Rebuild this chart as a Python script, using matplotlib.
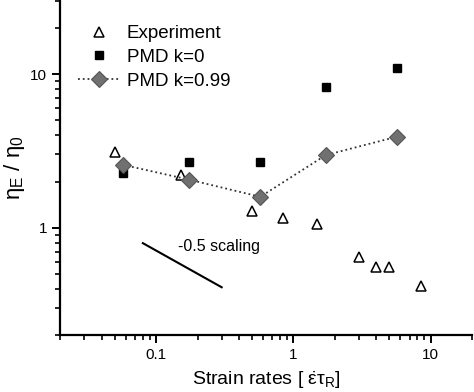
import matplotlib.pyplot as plt
import numpy as np

plt.rcParams["font.family"] = ["Liberation Sans", "DejaVu Sans"]
plt.rcParams["mathtext.fontset"] = "custom"
plt.rcParams["mathtext.rm"] = "Liberation Sans"
plt.rcParams["mathtext.it"] = "Liberation Sans"
plt.rcParams["mathtext.default"] = "regular"

# 实验数据
EXP_RATE = [0.05, 0.152, 0.497, 0.84, 1.49, 3.02, 4.0, 4.93, 8.47]
EXP_ETA = [3.09, 2.19, 1.29, 1.15, 1.06, 0.646, 0.556, 0.556, 0.42]

# PMD 仿真
PMD_RATE = [0.057, 0.172, 0.573, 1.72, 5.7]
PMD_K0_ETA = [2.26, 2.67, 2.67, 8.22, 10.9]
PMD_K099_ETA = [2.57, 2.06, 1.59, 2.97, 3.92]

# -0.5 标度线
SCALE_RATE = [0.08, 0.3]
SCALE_Y0 = 0.794
SCALE_EXP = -0.5

fig = plt.figure(figsize=(4.74, 3.92), dpi=100)
ax = fig.add_axes([0.127, 0.145, 0.869, 0.853])

ax.plot(EXP_RATE, EXP_ETA, "^", ms=7.5, mfc="white", mec="black", mew=1.1,
        ls="none", label="Experiment")
ax.plot(PMD_RATE, PMD_K0_ETA, "s", ms=6, color="black", ls="none", label="PMD k=0")
ax.plot(PMD_RATE, PMD_K099_ETA, ":", color="#333333", lw=1.3, marker="D", ms=8,
        mfc="#707070", mec="#555555", mew=0.8, label="PMD k=0.99")

sx = np.array(SCALE_RATE)
ax.plot(sx, SCALE_Y0 * (sx / sx[0]) ** SCALE_EXP, color="black", lw=1.5)
ax.text(0.145, 0.75, "-0.5 scaling", fontsize=11.5, va="center", ha="left")

ax.set_xscale("log")
ax.set_yscale("log")
ax.set_xlim(0.02, 20)
ax.set_ylim(0.2, 30)
ax.set_xticks([0.1, 1, 10])
ax.set_xticklabels(["0.1", "1", "10"])
ax.set_yticks([1, 10])
ax.set_yticklabels(["1", "10"])

for side in ("top", "right"):
    ax.spines[side].set_visible(False)
for side in ("left", "bottom"):
    ax.spines[side].set_linewidth(1.6)
ax.tick_params(which="major", length=6, width=1.4, labelsize=11, direction="out")
ax.tick_params(which="minor", length=3.5, width=1.2, direction="out")

ax.set_xlabel(r"Strain rates [ $\dot{\varepsilon}\tau_R$]", fontsize=14, labelpad=5)
ax.set_ylabel(r"$\eta_E\ /\ \eta_0$", fontsize=16, labelpad=2)

ax.legend(loc="upper left", bbox_to_anchor=(0.025, 0.95), frameon=False,
          fontsize=13.5, handlelength=2.2, handletextpad=0.4, labelspacing=0.36,
          borderaxespad=0)

fig.savefig("out.png", dpi=100)
